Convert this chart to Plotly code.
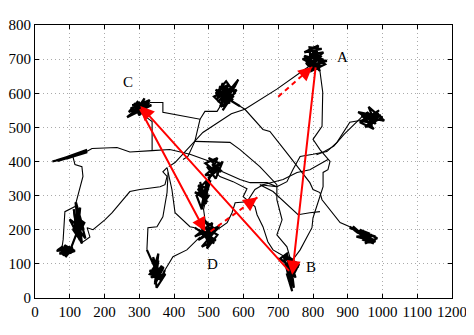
import plotly.graph_objects as go

# ---- trajectory paths between the resting places ----
left_x = [144,120,109,115,135,138,115,86,81,78,
          90,105,120,110,130,115,140,100,135,125,145,118,135,
          158,150,167,201,222,273,302,360,374,380,368,380,
          394,403,446,460]
left_y = [429,422,415,391,385,356,268,253,171,150,
          145,150,190,260,170,280,200,230,160,250,175,210,162,
          179,206,200,229,250,312,318,326,332,356,370,382,
          318,250,209,206]

top_left_x = [150,164,236,273,337,388,446,504]
top_left_y = [430,438,441,428,432,435,421,400]

c_down_x = [320,337,337]
c_down_y = [530,517,432]

c_link_x = [330,337,368,368,475,489,524,532]
c_link_y = [573,573,573,544,524,547,547,560]

mid_link_x = [590,604,656,676,728,757,791,800,820,826,878,906]
mid_link_y = [562,553,494,488,421,382,338,318,309,288,221,209]

a_link_x = [790,696,604,565,483,403,385]
a_link_y = [680,612,553,540,485,397,385]

a_down_x = [818,828,826,800,820,849,843,829,829,814,800,797,763,742]
a_down_y = [680,603,503,465,435,400,376,368,326,282,235,206,141,112]

b_link_x = [719,685,670,656,639,633,599,610,570,532,515]
b_link_y = [121,141,165,209,244,268,297,320,341,356,375]

d_right_x = [512,553,567,576,610,633,656,714,754,791,843]
d_right_y = [191,221,250,279,282,318,332,347,368,376,406]

mid_low_x = [538,590,619,668,696,647,685,757,791,820]
mid_low_y = [371,347,338,338,326,332,312,244,250,253]

cross_x = [475,460,440,426]
cross_y = [524,459,415,406]

cross2_x = [460,561,590,647,696,696,711,696,725,734]
cross2_y = [459,456,435,385,332,288,229,185,150,118]

right_link_x = [935,906,869,840,800,763,742,725,696]
right_link_y = [520,515,456,429,421,415,376,341,326]

right_link2_x = [945,890,860,830,810]
right_link2_y = [535,480,445,428,420]

bottom_link_x = [383,380,368,351,325,322]
bottom_link_y = [368,309,238,209,206,141]

bottom_out_x = [374,397,437,475]
bottom_out_y = [82,121,141,179]

d_up_x = [490,485,495,500,505]
d_up_y = [225,260,300,345,360]

# ---- resting places: jittery blobs ----
streak_x = [50,95,60,120,70,135,85,150,100,140,65,125,90,145,110,150,144]
streak_y = [400,412,403,422,405,428,410,434,416,430,402,420,408,432,415,427,429]

bl_x = [78,65,110,70,105,75,115,80,100,62,95,88,108,72,98,85,112,90]
bl_y = [150,140,145,130,132,150,138,125,150,138,142,120,148,146,128,155,140,145]

spiky_x = [105,120,112,128,118,140,100,135,125,145,118,135,110,130,122,142,115,133]
spiky_y = [150,190,260,170,280,200,230,160,250,175,210,162,200,265,180,220,240,185]

c_x = [300,280,320,265,335,290,310,275,330,300,285,320,295,270,305,315,290,325,280,300,310,285,330]
c_y = [555,540,575,530,565,560,545,555,580,535,570,550,575,545,560,585,548,560,565,572,540,550,573]

mid_x = [532,545,525,560,530,570,520,555,545,515,565,535,575,550,525,560,540,580,530,
         550,520,565,545,535,570,555,525,540,560,530,550,575,585,545,590]
mid_y = [560,590,575,605,620,580,600,625,560,590,615,570,600,635,605,585,550,610,595,
         575,610,595,620,560,590,605,585,630,570,600,580,620,640,590,562]

a_x = [800,785,815,790,830,780,810,820,770,805,835,795,790,825,800,775,815,805,840,785,
       800,830,795,780,810,815,790,825,800,820,785,805,830,800,775,810,790]
a_y = [690,705,680,670,700,690,720,675,700,710,685,665,735,730,725,720,740,700,695,680,
       715,720,690,685,730,700,675,710,695,665,700,725,690,680,710,700,680]

right_x = [965,940,990,950,1000,930,980,960,1005,945,975,935,990,965,950,985,955,970,940,995,960,935]
right_y = [530,520,540,500,530,545,510,560,520,530,495,515,550,525,535,520,545,505,535,535,515,520]

rlow_x = [906,930,915,960,940,980,925,970,950,985,935,960,945,975,920,955,968,942,980,905]
rlow_y = [209,190,210,170,195,165,180,185,160,175,200,190,170,160,198,178,168,188,180,205]

b_x = [742,730,750,720,745,735,755,725,740,715,750,735,745,705,725,740,760,732,738,748,728,719]
b_y = [112,120,60,100,30,110,90,70,20,125,105,50,85,115,130,70,100,45,95,75,105,121]

d_x = [460,490,470,520,480,530,460,510,500,475,525,495,505,470,520,485,512,500,478,515,492,512]
d_y = [206,185,200,170,150,210,180,220,160,215,185,145,200,170,200,230,191,175,190,160,205,191]

el_x = [505,480,465,500,470,495,475,490,460,500,480,495,470,492,485,505]
el_y = [345,260,300,320,330,280,340,290,310,300,270,345,318,275,300,360]

c5_x = [505,490,530,500,535,495,520,540,505,525,490,515,530,498,522,510,538]
c5_y = [360,360,395,410,370,385,350,400,365,410,395,375,382,350,372,392,371]

bottom_x = [322,340,365,330,370,345,355,335,375,350,340,360,330,355,345,365,350,338,362,374]
bottom_y = [141,100,50,80,90,40,130,60,70,30,120,60,70,110,45,95,75,88,55,82]

paths = [(left_x, left_y), (top_left_x, top_left_y), (c_down_x, c_down_y),
         (c_link_x, c_link_y), (mid_link_x, mid_link_y), (a_link_x, a_link_y),
         (a_down_x, a_down_y), (b_link_x, b_link_y), (d_right_x, d_right_y),
         (mid_low_x, mid_low_y), (cross_x, cross_y), (cross2_x, cross2_y),
         (right_link_x, right_link_y), (right_link2_x, right_link2_y),
         (bottom_link_x, bottom_link_y), (bottom_out_x, bottom_out_y), (d_up_x, d_up_y)]

blobs = [(streak_x, streak_y), (bl_x, bl_y), (spiky_x, spiky_y), (c_x, c_y),
         (mid_x, mid_y), (a_x, a_y), (right_x, right_y), (rlow_x, rlow_y),
         (b_x, b_y), (d_x, d_y), (el_x, el_y), (c5_x, c5_y), (bottom_x, bottom_y)]

# ---- red arrows: tail -> head ----
solid_tail_x = [808, 735, 300]
solid_tail_y = [680, 75, 558]
solid_head_x = [740, 303, 490]
solid_head_y = [68, 563, 195]

dashed_tail_x = [700, 505]
dashed_tail_y = [590, 195]
dashed_head_x = [798, 640]
dashed_head_y = [678, 295]

labels = ["A", "B", "C", "D"]
label_x = [885, 795, 268, 511]
label_y = [705, 90, 634, 101]

x_ticks = list(range(0, 1201, 100))
y_ticks = list(range(0, 801, 100))

fig = go.Figure()
for sx, sy in paths:
    fig.add_trace(go.Scatter(x=sx, y=sy, mode="lines",
                             line=dict(color="black", width=1.1),
                             showlegend=False, hoverinfo="skip"))
for sx, sy in blobs:
    fig.add_trace(go.Scatter(x=sx, y=sy, mode="lines",
                             line=dict(color="black", width=2.2),
                             showlegend=False, hoverinfo="skip"))

for tx, ty, hx, hy in zip(dashed_tail_x, dashed_tail_y, dashed_head_x, dashed_head_y):
    fig.add_trace(go.Scatter(x=[tx, hx], y=[ty, hy], mode="lines",
                             line=dict(color="red", width=2, dash="5px,4px"),
                             showlegend=False, hoverinfo="skip"))
    fx = tx + (hx - tx) * 0.8
    fy = ty + (hy - ty) * 0.8
    fig.add_annotation(x=hx, y=hy, ax=fx, ay=fy, xref="x", yref="y",
                       axref="x", ayref="y", showarrow=True, text="",
                       arrowhead=2, arrowsize=1.4, arrowwidth=2, arrowcolor="red")

for tx, ty, hx, hy in zip(solid_tail_x, solid_tail_y, solid_head_x, solid_head_y):
    fig.add_annotation(x=hx, y=hy, ax=tx, ay=ty, xref="x", yref="y",
                       axref="x", ayref="y", showarrow=True, text="",
                       arrowhead=2, arrowsize=1.4, arrowwidth=2, arrowcolor="red")

for t, lx, ly in zip(labels, label_x, label_y):
    fig.add_annotation(x=lx, y=ly, text=t, showarrow=False,
                       font=dict(family="Liberation Serif", size=15, color="black"))

axis_common = dict(showline=True, linecolor="black", linewidth=1, mirror="ticks",
                   ticks="inside", ticklen=4, tickcolor="black",
                   showgrid=True, gridcolor="#aaaaaa", griddash="1px,3px", gridwidth=1,
                   zeroline=False, automargin=False,
                   tickfont=dict(family="Liberation Serif", size=15, color="black"))

fig.update_xaxes(range=[0, 1200], tickvals=x_ticks, **axis_common)
fig.update_yaxes(range=[0, 800], tickvals=y_ticks, **axis_common)

# page body adds an 8px offset; size and margins compensate so the plot box lands
# at x 35..452, y 25..298 in the 474x335 window
fig.update_layout(width=466, height=327, margin=dict(l=27, r=22, t=17, b=37),
                  plot_bgcolor="white", paper_bgcolor="white")

fig.write_html("out.html")
